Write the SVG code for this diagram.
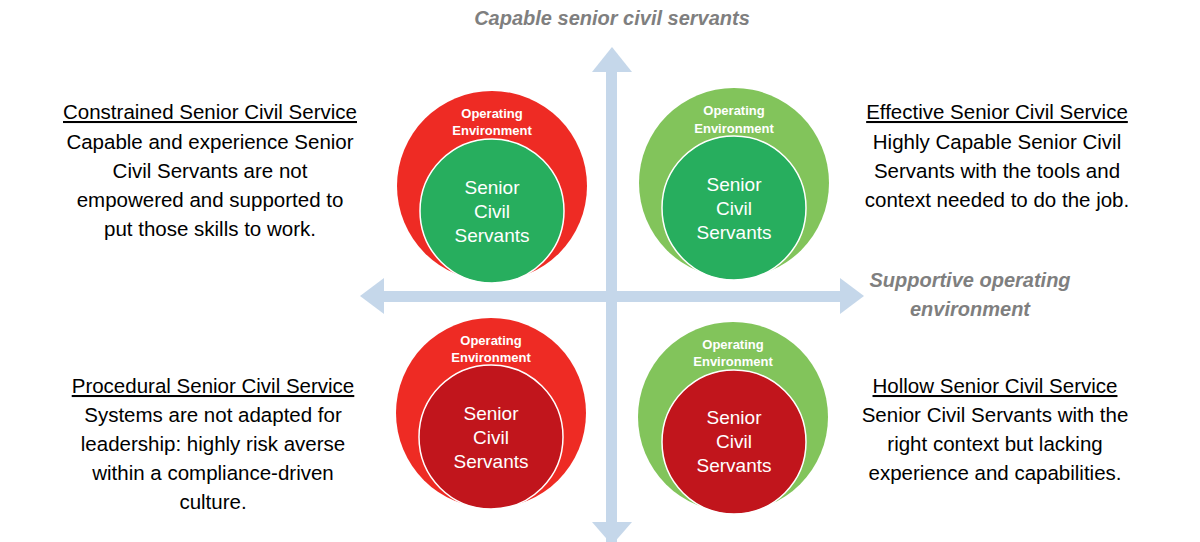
<svg xmlns="http://www.w3.org/2000/svg" width="1200" height="542" viewBox="0 0 1200 542">
<style>
.t{font-family:"Liberation Sans",Arial,sans-serif;font-size:20.5px;fill:#000;text-anchor:middle}
.h{text-decoration:underline}
.ax{font-family:"Liberation Sans",Arial,sans-serif;font-size:20px;font-weight:bold;font-style:italic;fill:#7f7f7f;text-anchor:middle}
.oe{font-family:"Liberation Sans",Arial,sans-serif;font-size:13px;font-weight:bold;fill:#fff;text-anchor:middle}
.sc{font-family:"Liberation Sans",Arial,sans-serif;font-size:19px;fill:#fff;text-anchor:middle}
.in{stroke:#fff;stroke-width:1.5}
</style>
<rect width="1200" height="542" fill="#fff"/>
<g id="connectors" fill="#C5D7EA">
<rect x="606" y="70" width="11" height="472"/>
<polygon points="612,47 632,72 592,72"/>
<polygon points="612,545 632,522 592,522"/>
<rect x="380" y="291" width="462" height="11"/>
<polygon points="360,296 384,278 384,314"/>
<polygon points="864,296 840,278 840,314"/>
</g>
<text class="ax" x="612" y="25">Capable senior civil servants</text>
<text class="ax" x="970" y="287">Supportive operating</text>
<text class="ax" x="970" y="316">environment</text>
<g id="q1">
<circle cx="492" cy="186" r="95" fill="#EE2B24"/>
<circle class="in" cx="492" cy="211" r="72" fill="#27AE5E"/>
<text class="oe" x="492" y="118">Operating</text><text class="oe" x="492" y="135">Environment</text>
<text class="sc" x="492" y="194">Senior</text><text class="sc" x="492" y="218">Civil</text><text class="sc" x="492" y="242">Servants</text>
</g>
<g id="q2">
<circle cx="734" cy="183" r="95" fill="#82C45B"/>
<circle class="in" cx="734" cy="208" r="72" fill="#27AE5E"/>
<text class="oe" x="734" y="115">Operating</text><text class="oe" x="734" y="133">Environment</text>
<text class="sc" x="734" y="191">Senior</text><text class="sc" x="734" y="215">Civil</text><text class="sc" x="734" y="239">Servants</text>
</g>
<g id="q3">
<circle cx="491" cy="413" r="95" fill="#EE2B24"/>
<circle class="in" cx="491" cy="437" r="72" fill="#C1151C"/>
<text class="oe" x="491" y="345">Operating</text><text class="oe" x="491" y="362">Environment</text>
<text class="sc" x="491" y="420">Senior</text><text class="sc" x="491" y="444">Civil</text><text class="sc" x="491" y="468">Servants</text>
</g>
<g id="q4">
<circle cx="733" cy="417" r="95" fill="#82C45B"/>
<circle class="in" cx="734" cy="442" r="72" fill="#C1151C"/>
<text class="oe" x="733" y="349">Operating</text><text class="oe" x="733" y="366">Environment</text>
<text class="sc" x="734" y="424">Senior</text><text class="sc" x="734" y="448">Civil</text><text class="sc" x="734" y="472">Servants</text>
</g>
<g id="t1" class="t">
<text x="210" y="119" class="t h">Constrained Senior Civil Service</text>
<text x="210" y="149" class="t">Capable and experience Senior</text>
<text x="210" y="178" class="t">Civil Servants are not</text>
<text x="210" y="207" class="t">empowered and supported to</text>
<text x="210" y="236" class="t">put those skills to work.</text>
</g>
<g id="t2">
<text x="997" y="119" class="t h">Effective Senior Civil Service</text>
<text x="997" y="149" class="t">Highly Capable Senior Civil</text>
<text x="997" y="178" class="t">Servants with the tools and</text>
<text x="997" y="207" class="t">context needed to do the job.</text>
</g>
<g id="t3">
<text x="213" y="393" class="t h">Procedural Senior Civil Service</text>
<text x="213" y="422" class="t">Systems are not adapted for</text>
<text x="213" y="451" class="t">leadership: highly risk averse</text>
<text x="213" y="480" class="t">within a compliance-driven</text>
<text x="213" y="509" class="t">culture.</text>
</g>
<g id="t4">
<text x="995" y="393" class="t h">Hollow Senior Civil Service</text>
<text x="995" y="422" class="t">Senior Civil Servants with the</text>
<text x="995" y="451" class="t">right context but lacking</text>
<text x="995" y="480" class="t">experience and capabilities.</text>
</g>
</svg>
